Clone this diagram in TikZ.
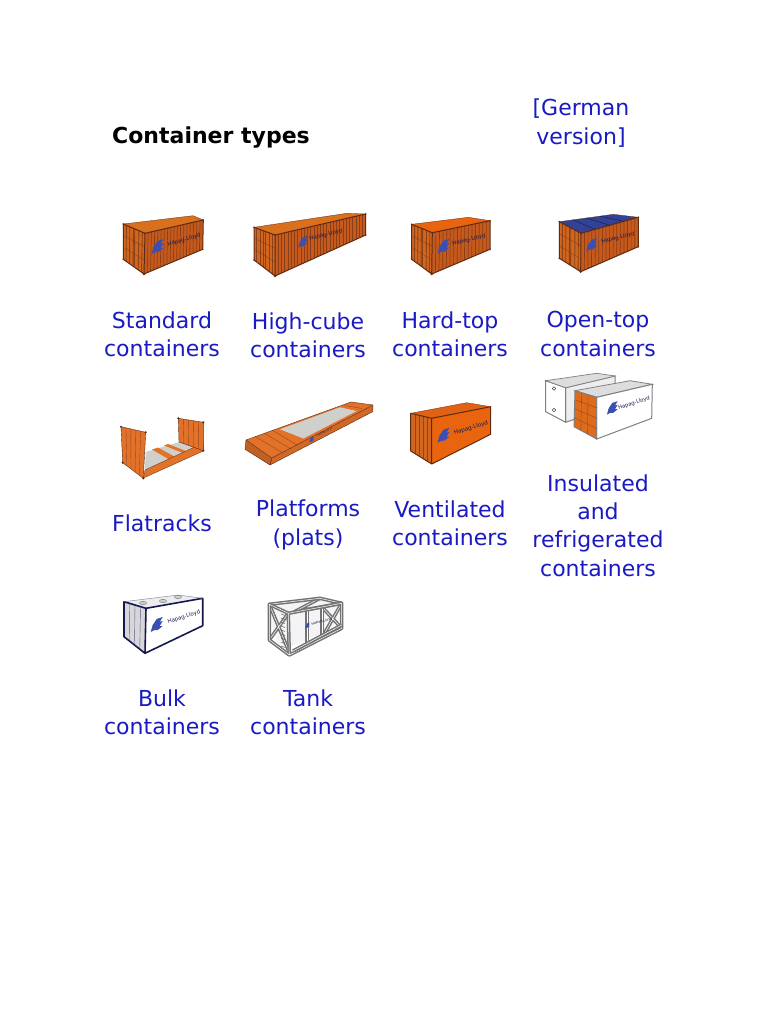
\documentclass[tikz,border=0pt]{standalone}
\usepackage{fontspec}
\setmainfont{DejaVu Sans}
\usetikzlibrary{calc}
\definecolor{linkblue}{HTML}{1A1AC4}
\definecolor{orside}{HTML}{C65A1C}
\definecolor{ortop}{HTML}{D8701E}
\definecolor{ordoor}{HTML}{D2661E}
\definecolor{orbright}{HTML}{E8640F}
\definecolor{orflat}{HTML}{E2722A}
\definecolor{ordark}{HTML}{5E2A12}
\definecolor{logoblue}{HTML}{3B4FB0}
\definecolor{navy}{HTML}{14184F}
\definecolor{sheet}{HTML}{EDEDF0}
\definecolor{deck}{HTML}{CFCFCB}
\tikzset{
  lbl/.style={text=linkblue,font=\fontsize{22}{28.4}\selectfont,align=center,inner sep=0pt},
  ttl/.style={text=black,font=\fontsize{22}{28.4}\selectfont\bfseries,align=center,inner sep=0pt},
  brand/.style={font=\fontsize{5.4}{6}\selectfont,inner sep=0pt},
  faceline/.style={draw=ordark,line width=.55pt,line join=round},
  rib/.style={draw=ordark,line width=.7pt,opacity=.55},
  ribthin/.style={draw=ordark,line width=.35pt,opacity=.6},
  frameline/.style={draw=gray!90!black,line width=1.5pt,double=white,double distance=.5pt,line join=round},
}
% (top-left)(front-top)(right-top)(back-top)(bottom-left)(front-bottom)(right-bottom){top colour}{ribs}
\def\cont(#1)(#2)(#3)(#4)(#5)(#6)(#7)#8#9{%
  \coordinate (TL) at (#1);\coordinate (FT) at (#2);\coordinate (RT) at (#3);\coordinate (BK) at (#4);
  \coordinate (BL) at (#5);\coordinate (FB) at (#6);\coordinate (RB) at (#7);
  \fill[#8] (TL)--(FT)--(RT)--(BK)--cycle;
  \fill[orside] (FT)--(RT)--(RB)--(FB)--cycle;
  \fill[ordoor] (TL)--(FT)--(FB)--(BL)--cycle;
  \foreach \t in {1,...,#9}{
    \pgfmathsetmacro{\u}{\t/(#9+1)}
    \draw[rib] ($(FT)!\u!(RT)$)--($(FB)!\u!(RB)$);
  }
  \foreach \u in {.14,.3,.47,.53,.72,.88}{
    \draw[ribthin,line width=.9pt] ($(TL)!\u!(FT)$)--($(BL)!\u!(FB)$);
  }
  \foreach \u in {.33,.66}{
    \draw[ribthin] ($(TL)!\u!(BL)$)--($(FT)!\u!(FB)$);
  }
  \draw[faceline,line width=1pt] (TL)--(FT)--(RT)--(RB)--(FB)--(BL)--cycle (FT)--(FB);
  \draw[faceline,line width=.3pt] (TL)--(BK)--(RT);
  \fill[ordark] (FB) circle (1.3) (TL) circle (.9) (FT) circle (.9) (RT) circle (.9) (RB) circle (.9) (BL) circle (.9);
}
% x y scale colour
\def\hlogo#1#2#3#4{%
  \fill[#4,shift={(#1,#2)},scale=#3] (-6,7)--(-4,0)--(0,-6)--(6,-8)--(3,-3)--(6,-4)--(3,1)--(6,1)--(1,5)--(-2,5)--cycle;
}
\begin{document}
\begin{tikzpicture}[x=1pt,y=-1pt]
\useasboundingbox (0,0) rectangle (768,1024);
\fill[white] (0,0) rectangle (768,1024);

% Standard
\cont(123.3,224)(145,233.3)(203.3,220)(193,215.7)(123.3,259.3)(144,274)(202.7,249.3){ortop}{17}
\hlogo{157.5}{247}{1}{logoblue}
\node[brand,rotate=16,text=navy] (b1) at (184,240) {Hapag-Lloyd};

% High cube
\cont(254,227.3)(275,235)(365.7,214)(346.7,213.3)(254,260)(275,276)(365.7,235){ortop}{27}
\hlogo{303}{242}{.8}{logoblue}
\node[brand,rotate=14,text=navy] (b2) at (326,235) {Hapag-Lloyd};

% Hard top
\cont(411.7,224.3)(432.3,232.7)(490,220.7)(468.3,217.3)(411.7,259.3)(431.7,274)(490,249.3){orbright}{15}
\hlogo{443.5}{246.7}{1}{logoblue}
\node[brand,rotate=14,text=navy] (b3) at (469,240) {Hapag-Lloyd};

% Open top
\cont(559.3,221.7)(581,233.3)(638.3,217.3)(613.3,214.3)(559.3,258.3)(580.7,271.7)(638.3,246.7){fill=logoblue!85!black}{15}
\foreach \u in {.25,.5,.75}{\draw[navy,line width=.4pt] ($(TL)!\u!(BK)$)--($(FT)!\u!(RT)$);}
\hlogo{591.7}{245}{.9}{logoblue}
\node[brand,rotate=14,text=navy] (b4) at (618,238) {Hapag-Lloyd};

% Flatrack
\fill[deck] (145.7,452)--(180,441.7)--(202,449)--(145,470)--cycle;
\fill[orflat] (152,449.5)--(158,447.5)--(177,458)--(171,460.5)--cycle;
\fill[orflat] (164,445.5)--(168,444)--(192,453.5)--(188,455)--cycle;
\draw[faceline,line width=.3pt,fill=orflat] (145,470)--(203.3,443)--(203.3,451)--(143.5,478)--cycle;
\draw[faceline,line width=.4pt,fill=orflat] (178.3,418.3)--(203.3,422.3)--(203.3,450.7)--(179,442)--cycle;
\foreach \u in {.2,.4,.6,.8}{\draw[ribthin] ($(178.3,418.3)!\u!(203.3,422.3)$)--($(179,442)!\u!(203.3,450.7)$);}
\draw[faceline,line width=.4pt,fill=orflat] (121,426.7)--(145.7,432.3)--(143.3,478.3)--(122.7,462.7)--cycle;
\foreach \u in {.2,.4,.6,.8}{\draw[ribthin] ($(121,426.7)!\u!(145.7,432.3)$)--($(122.7,462.7)!\u!(143.3,478.3)$);}
\fill[ordark] (121,426.7) circle (1.2) (145.7,432.3) circle (1.2) (143.3,478.3) circle (1.2) (122.7,462.7) circle (1.2) (178.3,418.3) circle (1.2) (203.3,422.3) circle (1.2) (203.3,450.7) circle (1.2);

% Platform
\fill[orflat] (246,440)--(351,402)--(373,405)--(271.7,458)--cycle;
\draw[faceline,line width=.4pt,fill=orflat!92!black] (271.7,458)--(373,405)--(372.7,411.7)--(270,465)--cycle;
\draw[faceline,line width=.4pt,fill=orflat!85!black] (246,440)--(271.7,458)--(270,465)--(245,449.3)--cycle;
\fill[deck] (280,429.3)--(340,407.3)--(356.7,411)--(303.3,438.5)--cycle;
\draw[ribthin] (255,436.5)--(283,453) (264,433)--(291,449) (272,430)--(297,445);
\draw[ribthin] (345,405.5)--(362,408.5);
\hlogo{311.5}{439.5}{.4}{logoblue}
\draw[faceline,line width=.4pt] (246,440)--(351,402)--(373,405);
\node[brand,rotate=27,text=navy,font=\fontsize{2.5}{3}\selectfont] (b5) at (325,432) {Hapag-Lloyd};

% Ventilated
\fill[orbright!80!orside] (410.7,413.3)--(466.7,402.7)--(490.7,406.7)--(431.7,418.3)--cycle;
\fill[orbright] (431.7,418.3)--(490.7,406.7)--(490.7,434.3)--(431.7,464)--cycle;
\fill[ordoor] (410.7,413.3)--(431.7,418.3)--(431.7,464)--(410.7,451)--cycle;
\foreach \u in {.2,.4,.6,.8}{\draw[rib] ($(410.7,413.3)!\u!(431.7,418.3)$)--($(410.7,451)!\u!(431.7,464)$);}
\draw[faceline,line width=1pt] (410.7,413.3)--(431.7,418.3)--(490.7,406.7)--(490.7,434.3)--(431.7,464)--(410.7,451)--cycle (431.7,418.3)--(431.7,464);
\draw[faceline,line width=.3pt] (410.7,413.3)--(466.7,402.7)--(490.7,406.7);
\hlogo{443.5}{435.7}{1}{logoblue}
\node[brand,rotate=17,text=navy,font=\fontsize{5.6}{7}\selectfont] (b6) at (471,428) {Hapag-Lloyd};

% Insulated: back unit
\draw[gray,line width=1pt,fill=sheet] (565.7,387.7)--(615,376)--(615,405)--(565.7,422.3)--cycle;
\draw[gray,line width=1pt,fill=white] (545.7,380.7)--(565.7,387.7)--(565.7,422.3)--(545.7,411.7)--cycle;
\draw[gray,line width=.7pt,fill=sheet!85!gray] (545.7,380.7)--(596.7,373.3)--(615,376)--(565.7,387.7)--cycle;
\draw[black!70,line width=.5pt] (554,388.5) circle (1.8) (554,410) circle (1.8);
% Insulated: front unit
\draw[gray,line width=.8pt,fill=sheet!85!gray] (575,390.7)--(630,380.7)--(652.3,384.3)--(596.7,397.3)--cycle;
\draw[gray,line width=1pt,fill=white] (596.7,397.3)--(652.3,384.3)--(651.7,418.3)--(596.7,439)--cycle;
\draw[gray,line width=1pt,fill=orbright!75!brown] (575,390.7)--(596.7,397.3)--(596.7,439)--(574,426.7)--cycle;
\foreach \u in {.3,.6}{\draw[ribthin] ($(575,390.7)!\u!(596.7,397.3)$)--($(574,426.7)!\u!(596.7,439)$);}
\foreach \u in {.25,.5,.75}{\draw[ribthin] ($(575,390.7)!\u!(574,426.7)$)--($(596.7,397.3)!\u!(596.7,439)$);}
\hlogo{612.3}{408.3}{.9}{logoblue}
\node[brand,rotate=17,text=navy,font=\fontsize{5.2}{7}\selectfont] (b7) at (634,403) {Hapag-Lloyd};

% Bulk
\fill[sheet] (124,601.7)--(178.3,595)--(202.7,598.3)--(146,608.3)--cycle;
\fill[white] (146,608.3)--(202.7,598.3)--(202.7,625.7)--(145,653.3)--cycle;
\fill[sheet!80!gray] (124,601.7)--(146,608.3)--(145,653.3)--(124,636.7)--cycle;
\foreach \u in {.25,.5,.75}{\draw[navy!70,line width=.4pt] ($(124,601.7)!\u!(146,608.3)$)--($(124,636.7)!\u!(145,653.3)$);}
\draw[navy,line width=1.6pt,line join=round] (124,601.7)--(146,608.3)--(202.7,598.3)--(202.7,625.7)--(145,653.3)--(124,636.7)--cycle (146,608.3)--(145,653.3);
\draw[gray,line width=.4pt] (124,601.7)--(178.3,595)--(202.7,598.3);
\foreach \hx/\hy in {143/603,163/601,178/597}{\draw[gray,line width=.5pt,fill=deck] (\hx,\hy) ellipse (3.6 and 1.6);}
\hlogo{156.7}{625}{1}{logoblue}
\node[brand,rotate=19,text=navy,font=\fontsize{5.4}{7}\selectfont] (b8) at (184,617) {Hapag-Lloyd};

% Tank
\fill[sheet!60!white] (272,612) .. controls (280,600) and (325,596) .. (338,604) -- (338,622) .. controls (325,634) and (295,645) .. (285,648) .. controls (275,645) and (270,625) .. (272,612) -- cycle;
\draw[frameline] (322,607)--(341.7,628.3) (341.7,603.3)--(322,637.5);
\draw[frameline] (269.3,604.3)--(288.3,650) (288.3,613.3)--(269.3,640);
\draw[frameline] (294,612)--(320,598.3) (304,610)--(341.7,603.3);
\draw[frameline] (322,607)--(322,637.5) (307,610)--(307,646);
\draw[frameline] (269.3,604.3)--(320,598.3)--(341.7,603.3);
\draw[frameline] (269.3,604.3)--(288.3,613.3)--(341.7,603.3)--(341.7,628.3)--(289.3,655)--(269.3,640)--cycle (288.3,613.3)--(289.3,655);
\draw[frameline] (293,651)--(341.7,625);
\foreach \u in {.1,.2,...,.9}{\draw[gray!70!black,line width=.5pt] ($(281,610)!\u!(281,650)$)--++(4,1.5);}
\hlogo{307.3}{625.7}{.4}{logoblue}
\node[brand,rotate=15,text=navy,font=\fontsize{3.4}{4}\selectfont] (b9) at (322,621.5) {Hapag-Lloyd};

% Text
\node[ttl] (title) at (211,138) {Container types};
\node[lbl] (german) at (581,123) {[German\\ version]};
\node[lbl] (l1) at (162,334) {Standard\\containers};
\node[lbl] (l2) at (308,335) {High-cube\\containers};
\node[lbl] (l3) at (450,334) {Hard-top\\containers};
\node[lbl] (l4) at (598,334) {Open-top\\containers};
\node[lbl] (l5) at (162,523) {Flatracks};
\node[lbl] (l6) at (308,525) {Platforms\\(plats)};
\node[lbl] (l7) at (450,523.5) {Ventilated\\containers};
\node[lbl] (l8) at (598,525.5) {Insulated\\and\\refrigerated\\containers};
\node[lbl] (l9) at (162,712) {Bulk\\containers};
\node[lbl] (l10) at (308,712) {Tank\\containers};
\end{tikzpicture}
\end{document}
